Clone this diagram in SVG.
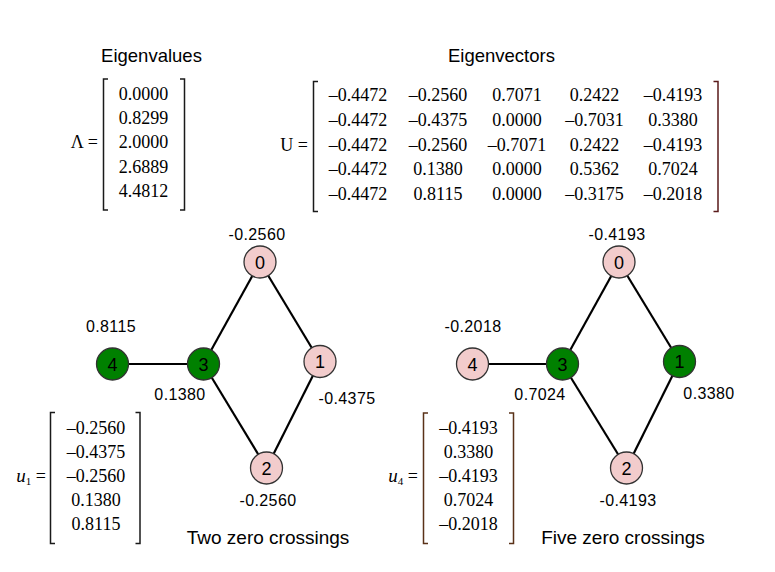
<svg xmlns="http://www.w3.org/2000/svg" width="775" height="572" viewBox="0 0 775 572">
<style>
.bg{fill:#ffffff}
.title{font-family:"Liberation Sans",Arial,sans-serif;font-size:18.5px;fill:#000;text-anchor:middle}
.cap{font-family:"Liberation Sans",Arial,sans-serif;font-size:19px;fill:#000;text-anchor:middle}
.val{font-family:"Liberation Sans",Arial,sans-serif;font-size:16px;fill:#000;text-anchor:middle;letter-spacing:0.4px}
.num{font-family:"Liberation Sans",Arial,sans-serif;font-size:18px;fill:#000;text-anchor:middle}
.m{font-family:"Liberation Serif","Times New Roman",serif;font-size:18px;fill:#000;text-anchor:middle}
.lbl{font-family:"Liberation Serif","Times New Roman",serif;font-size:18px;fill:#000;text-anchor:end}
.br{fill:none;stroke:#1a1a1a;stroke-width:1.5}
.brr{fill:none;stroke:#5a1a1a;stroke-width:1.5}
.bro{fill:none;stroke:#5a3218;stroke-width:1.5}
.pink{fill:#f2cccc;stroke:#333;stroke-width:1.3}
.green{fill:#008000;stroke:#333;stroke-width:1.3}
.edge{stroke:#000;stroke-width:2.2}
</style>
<rect class="bg" x="0" y="0" width="775" height="572"/>

<!-- Eigenvalues -->
<g id="eigenvalues">
<text class="title" x="151.5" y="61.5">Eigenvalues</text>
<text class="lbl" x="98" y="148">Λ =</text>
<path class="br" d="M108,79 H103.5 V210 H108"/>
<path class="br" d="M180,79 H184.5 V210 H180"/>
<text class="m" x="143.5" y="100">0.0000</text>
<text class="m" x="143.5" y="124">0.8299</text>
<text class="m" x="143.5" y="148">2.0000</text>
<text class="m" x="143.5" y="172.5">2.6889</text>
<text class="m" x="143.5" y="196.5">4.4812</text>
</g>

<!-- Eigenvectors -->
<g id="eigenvectors">
<text class="title" x="501.5" y="61.5">Eigenvectors</text>
<text class="lbl" x="308" y="151">U =</text>
<path class="br" d="M318,81.5 H313.5 V211.5 H318"/>
<path class="brr" d="M713.5,81.5 H718 V211.5 H713.5"/>
<g>
<text class="m" x="358" y="101">–0.4472</text>
<text class="m" x="438" y="101">–0.2560</text>
<text class="m" x="517" y="101">0.7071</text>
<text class="m" x="594.5" y="101">0.2422</text>
<text class="m" x="673" y="101">–0.4193</text>

<text class="m" x="358" y="126">–0.4472</text>
<text class="m" x="438" y="126">–0.4375</text>
<text class="m" x="517" y="126">0.0000</text>
<text class="m" x="594.5" y="126">–0.7031</text>
<text class="m" x="673" y="126">0.3380</text>

<text class="m" x="358" y="150.5">–0.4472</text>
<text class="m" x="438" y="150.5">–0.2560</text>
<text class="m" x="517" y="150.5">–0.7071</text>
<text class="m" x="594.5" y="150.5">0.2422</text>
<text class="m" x="673" y="150.5">–0.4193</text>

<text class="m" x="358" y="175">–0.4472</text>
<text class="m" x="438" y="175">0.1380</text>
<text class="m" x="517" y="175">0.0000</text>
<text class="m" x="594.5" y="175">0.5362</text>
<text class="m" x="673" y="175">0.7024</text>

<text class="m" x="358" y="199.5">–0.4472</text>
<text class="m" x="438" y="199.5">0.8115</text>
<text class="m" x="517" y="199.5">0.0000</text>
<text class="m" x="594.5" y="199.5">–0.3175</text>
<text class="m" x="673" y="199.5">–0.2018</text>
</g>
</g>

<!-- u1 vector -->
<g id="u1">
<text class="lbl" x="46" y="482"><tspan font-style="italic" font-size="19">u</tspan><tspan font-size="11" dy="3">1</tspan><tspan dy="-3"> =</tspan></text>
<path class="br" d="M55,412.5 H50.5 V543.5 H55"/>
<path class="br" d="M135.5,412.5 H140 V543.5 H135.5"/>
<text class="m" x="96" y="434">–0.2560</text>
<text class="m" x="96" y="458">–0.4375</text>
<text class="m" x="96" y="482">–0.2560</text>
<text class="m" x="96" y="506">0.1380</text>
<text class="m" x="96" y="530">0.8115</text>
</g>

<!-- u4 vector -->
<g id="u4">
<text class="lbl" x="418" y="482"><tspan font-style="italic" font-size="19">u</tspan><tspan font-size="11" dy="3">4</tspan><tspan dy="-3"> =</tspan></text>
<path class="bro" d="M428,413 H423.5 V543.5 H428"/>
<path class="bro" d="M509,413 H513.5 V543.5 H509"/>
<text class="m" x="468.5" y="434">–0.4193</text>
<text class="m" x="468.5" y="458">0.3380</text>
<text class="m" x="468.5" y="482">–0.4193</text>
<text class="m" x="468.5" y="506">0.7024</text>
<text class="m" x="468.5" y="530">–0.2018</text>
</g>

<!-- connectors -->
<g id="connectors">
<line class="edge" x1="260" y1="262" x2="203.5" y2="364"/>
<line class="edge" x1="260" y1="262" x2="320" y2="361.5"/>
<line class="edge" x1="320" y1="361.5" x2="266.5" y2="468"/>
<line class="edge" x1="203.5" y1="364" x2="266.5" y2="468"/>
<line class="edge" x1="112.5" y1="364" x2="203.5" y2="364"/>

<line class="edge" x1="619" y1="262" x2="562.5" y2="364"/>
<line class="edge" x1="619" y1="262" x2="679.5" y2="361.5"/>
<line class="edge" x1="679.5" y1="361.5" x2="626.5" y2="468"/>
<line class="edge" x1="562.5" y1="364" x2="626.5" y2="468"/>
<line class="edge" x1="472.5" y1="364" x2="562.5" y2="364"/>
</g>

<!-- left graph nodes -->
<g id="L0"><circle class="pink" cx="260" cy="262" r="16"/><text class="num" x="260" y="268.5">0</text></g>
<g id="L1"><circle class="pink" cx="320" cy="361.5" r="16"/><text class="num" x="320" y="368">1</text></g>
<g id="L2"><circle class="pink" cx="266.5" cy="468" r="16"/><text class="num" x="266.5" y="474.5">2</text></g>
<g id="L3"><circle class="green" cx="203.5" cy="364" r="16"/><text class="num" x="203.5" y="370.5">3</text></g>
<g id="L4"><circle class="green" cx="112.5" cy="364" r="16"/><text class="num" x="112.5" y="370.5">4</text></g>

<g id="left-labels">
<text class="val" x="257" y="239.5">-0.2560</text>
<text class="val" x="111" y="331.5">0.8115</text>
<text class="val" x="180" y="399.5">0.1380</text>
<text class="val" x="347" y="403.5">-0.4375</text>
<text class="val" x="268" y="505.5">-0.2560</text>
<text class="cap" x="268" y="544">Two zero crossings</text>
</g>

<!-- right graph nodes -->
<g id="R0"><circle class="pink" cx="619" cy="262" r="16"/><text class="num" x="619" y="268.5">0</text></g>
<g id="R1"><circle class="green" cx="679.5" cy="361.5" r="16"/><text class="num" x="679.5" y="368">1</text></g>
<g id="R2"><circle class="pink" cx="626.5" cy="468" r="16"/><text class="num" x="626.5" y="474.5">2</text></g>
<g id="R3"><circle class="green" cx="562.5" cy="364" r="16"/><text class="num" x="562.5" y="370.5">3</text></g>
<g id="R4"><circle class="pink" cx="472.5" cy="364" r="16"/><text class="num" x="472.5" y="370.5">4</text></g>

<g id="right-labels">
<text class="val" x="617" y="239.5">-0.4193</text>
<text class="val" x="473" y="331.5">-0.2018</text>
<text class="val" x="540" y="399.5">0.7024</text>
<text class="val" x="709" y="399">0.3380</text>
<text class="val" x="628" y="505.5">-0.4193</text>
<text class="cap" x="623" y="544">Five zero crossings</text>
</g>
</svg>
